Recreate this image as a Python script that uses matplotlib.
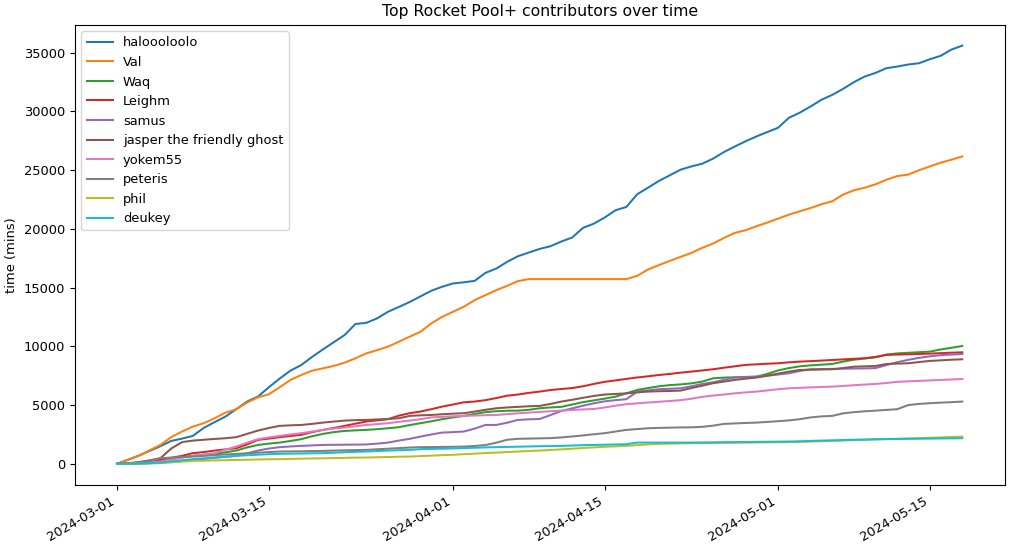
import matplotlib
matplotlib.use("Agg")
import matplotlib.pyplot as plt
import matplotlib.dates as mdates
import pandas as pd

plt.rcParams["font.size"] = 9.4
plt.rcParams["lines.linewidth"] = 1.45

dates = pd.date_range("2024-03-01", "2024-05-18", freq="D")

names = ["haloooloolo", "Val", "Waq", "Leighm", "samus",
         "jasper the friendly ghost", "yokem55", "peteris", "phil", "deukey"]

haloooloolo = [0, 350, 700, 1100, 1500, 1950, 2150, 2380, 3060, 3550,
               4020, 4650, 5300, 5720, 6510, 7250, 7930, 8410, 9100, 9740,
               10350, 10960, 11900, 12000, 12380, 12940, 13350, 13770, 14250, 14730,
               15070, 15350, 15450, 15570, 16250, 16620, 17190, 17670, 17980, 18290,
               18520, 18920, 19260, 20080, 20440, 20960, 21580, 21860, 22940, 23500,
               24070, 24550, 25030, 25310, 25540, 25970, 26530, 27000, 27450, 27860,
               28230, 28600, 29450, 29880, 30410, 30980, 31400, 31910, 32480, 32960,
               33270, 33670, 33810, 33980, 34090, 34430, 34720, 35250, 35590]
val = [0, 330, 680, 1150, 1610, 2270, 2750, 3170, 3460, 3880,
       4360, 4640, 5210, 5660, 5920, 6510, 7140, 7560, 7930, 8130,
       8330, 8610, 8980, 9400, 9680, 9970, 10390, 10820, 11240, 11950,
       12510, 12940, 13370, 13930, 14360, 14780, 15150, 15550, 15720, 15720,
       15720, 15720, 15720, 15720, 15720, 15720, 15720, 15720, 16000, 16540,
       16910, 17270, 17610, 17950, 18380, 18750, 19220, 19650, 19880, 20220,
       20530, 20870, 21210, 21490, 21770, 22090, 22340, 22910, 23280, 23500,
       23790, 24180, 24490, 24610, 24980, 25310, 25630, 25880, 26160]
waq = [0, 30, 80, 150, 280, 450, 580, 680, 760, 850,
       980, 1130, 1400, 1610, 1720, 1810, 1950, 2100, 2350, 2550,
       2700, 2800, 2850, 2890, 2950, 3030, 3120, 3300, 3460, 3620,
       3800, 3950, 4080, 4250, 4400, 4480, 4520, 4530, 4600, 4730,
       4800, 4850, 5050, 5250, 5400, 5550, 5720, 6000, 6290, 6450,
       6600, 6700, 6760, 6850, 7000, 7280, 7340, 7370, 7400, 7420,
       7650, 7950, 8150, 8300, 8380, 8440, 8500, 8700, 8860, 8960,
       9070, 9300, 9400, 9450, 9500, 9550, 9730, 9880, 10030]
leighm = [0, 30, 80, 180, 340, 520, 680, 910, 1000, 1130,
          1230, 1330, 1650, 2040, 2150, 2270, 2370, 2470, 2700, 2890,
          3050, 3230, 3420, 3600, 3700, 3800, 4100, 4310, 4450, 4650,
          4870, 5050, 5240, 5300, 5420, 5600, 5800, 5900, 6040, 6150,
          6280, 6370, 6450, 6600, 6800, 6980, 7100, 7230, 7350, 7450,
          7560, 7650, 7760, 7850, 7950, 8050, 8180, 8300, 8420, 8470,
          8520, 8560, 8640, 8700, 8740, 8790, 8840, 8890, 8940, 8990,
          9100, 9270, 9300, 9320, 9350, 9380, 9420, 9460, 9490]
samus = [0, 10, 30, 60, 110, 190, 260, 340, 420, 510,
         600, 680, 900, 1130, 1300, 1420, 1480, 1530, 1570, 1610,
         1620, 1630, 1640, 1650, 1720, 1810, 1980, 2130, 2320, 2500,
         2660, 2700, 2750, 3000, 3310, 3310, 3500, 3740, 3790, 3820,
         4150, 4500, 4720, 4950, 5150, 5320, 5420, 5500, 6150, 6250,
         6350, 6390, 6430, 6600, 6800, 6940, 7150, 7340, 7380, 7420,
         7500, 7600, 7710, 7900, 8050, 8070, 8080, 8100, 8110, 8120,
         8150, 8400, 8650, 8850, 9020, 9150, 9250, 9300, 9350]
jasper = [0, 50, 150, 300, 480, 1300, 1850, 1980, 2050, 2120,
          2180, 2270, 2550, 2830, 3050, 3230, 3280, 3310, 3400, 3510,
          3600, 3680, 3720, 3740, 3780, 3820, 3880, 4080, 4130, 4160,
          4220, 4270, 4310, 4450, 4600, 4730, 4800, 4850, 4900, 4930,
          5100, 5300, 5450, 5620, 5780, 5900, 5950, 6000, 6080, 6150,
          6180, 6200, 6230, 6450, 6650, 6860, 7000, 7140, 7250, 7340,
          7500, 7680, 7850, 7990, 8010, 8030, 8050, 8150, 8270, 8300,
          8330, 8500, 8530, 8560, 8660, 8760, 8810, 8860, 8900]
yokem55 = [0, 20, 60, 120, 200, 360, 520, 680, 800, 910,
           1200, 1470, 1800, 2100, 2250, 2380, 2500, 2610, 2750, 2890,
           3000, 3090, 3200, 3310, 3380, 3460, 3580, 3680, 3800, 3950,
           4000, 4050, 4080, 4110, 4140, 4160, 4230, 4300, 4360, 4420,
           4480, 4530, 4580, 4630, 4670, 4800, 4950, 5080, 5150, 5220,
           5280, 5350, 5420, 5540, 5700, 5810, 5900, 6000, 6080, 6150,
           6250, 6350, 6430, 6470, 6510, 6540, 6570, 6630, 6690, 6750,
           6800, 6880, 6980, 7020, 7060, 7100, 7140, 7180, 7220]
peteris = [0, 30, 100, 250, 480, 530, 580, 620, 680, 740,
           800, 850, 900, 950, 1000, 1050, 1060, 1070, 1090, 1100,
           1130, 1150, 1170, 1190, 1240, 1290, 1340, 1390, 1420, 1430,
           1440, 1450, 1470, 1520, 1600, 1800, 2050, 2130, 2150, 2170,
           2190, 2250, 2330, 2420, 2520, 2610, 2750, 2890, 2960, 3030,
           3060, 3080, 3100, 3110, 3150, 3250, 3400, 3440, 3480, 3510,
           3570, 3630, 3700, 3800, 3950, 4040, 4080, 4300, 4400, 4470,
           4530, 4590, 4650, 5000, 5100, 5160, 5210, 5250, 5300]
phil = [0, 5, 15, 30, 60, 120, 190, 250, 270, 290,
        310, 330, 350, 370, 390, 400, 420, 440, 460, 470,
        490, 510, 530, 540, 560, 580, 610, 620, 660, 700,
        740, 770, 820, 870, 920, 960, 1000, 1050, 1090, 1130,
        1180, 1230, 1290, 1350, 1400, 1450, 1490, 1530, 1590, 1650,
        1700, 1720, 1740, 1760, 1770, 1780, 1790, 1800, 1810, 1820,
        1830, 1840, 1850, 1870, 1900, 1930, 1960, 1990, 2020, 2040,
        2070, 2100, 2130, 2160, 2190, 2220, 2250, 2290, 2320]
deukey = [0, 10, 30, 60, 110, 200, 300, 400, 470, 540,
          610, 680, 730, 780, 820, 850, 870, 880, 900, 910,
          950, 990, 1020, 1050, 1090, 1130, 1160, 1190, 1250, 1270,
          1290, 1310, 1340, 1370, 1400, 1420, 1440, 1460, 1480, 1500,
          1510, 1530, 1560, 1590, 1610, 1630, 1650, 1670, 1810, 1810,
          1810, 1810, 1810, 1810, 1820, 1830, 1840, 1850, 1860, 1870,
          1880, 1890, 1900, 1920, 1950, 1980, 2000, 2020, 2050, 2070,
          2100, 2110, 2120, 2130, 2140, 2150, 2160, 2170, 2180]

series = [haloooloolo, val, waq, leighm, samus, jasper, yokem55, peteris, phil, deukey]

fig, ax = plt.subplots(figsize=(10.24, 5.49), dpi=100)
for name, vals in zip(names, series):
    ax.plot(dates, vals, label=name)

ax.set_title("Top Rocket Pool+ contributors over time")
ax.set_ylabel("time (mins)")
ax.legend(loc="upper left")
ticks = pd.to_datetime(["2024-03-01", "2024-03-15", "2024-04-01",
                        "2024-04-15", "2024-05-01", "2024-05-15"])
ax.set_xticks(ticks)
ax.xaxis.set_major_formatter(mdates.DateFormatter("%Y-%m-%d"))
fig.autofmt_xdate()
fig.subplots_adjust(left=0.073, right=0.981, top=0.955, bottom=0.117)
fig.savefig("out.png", dpi=100)
